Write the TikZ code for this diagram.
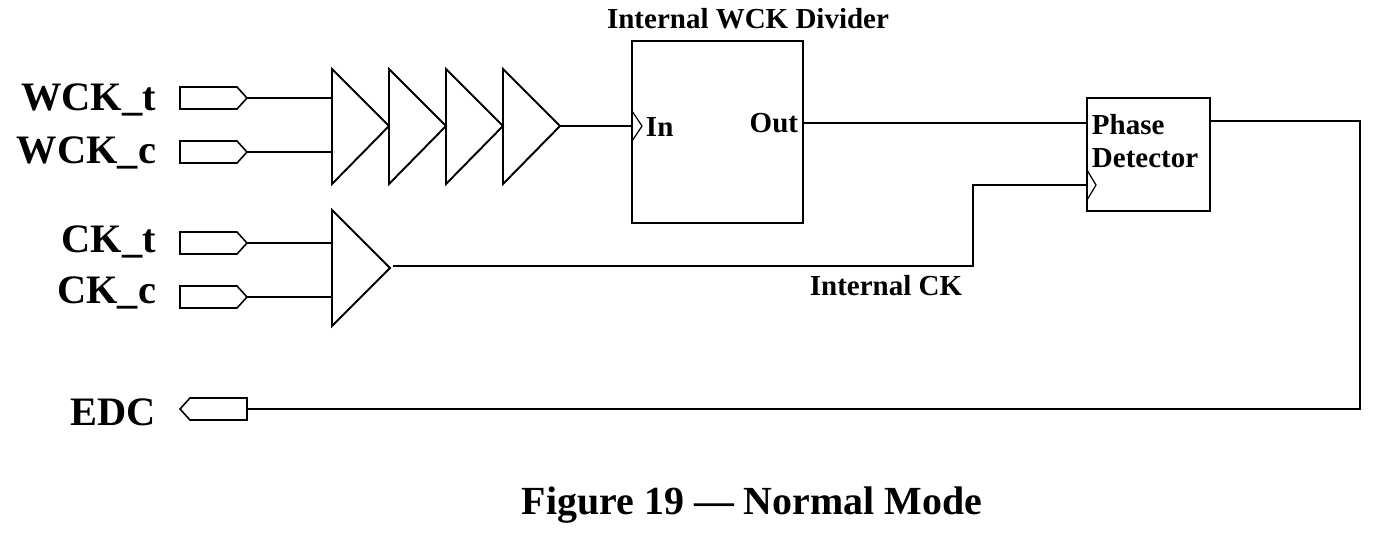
\documentclass[tikz,border=0pt]{standalone}
\usepackage{fontspec}
\setmainfont{Liberation Serif}
\begin{document}
\begin{tikzpicture}[x=0.02cm,y=-0.02cm,line width=1.1pt,
  big/.style={font=\bfseries\fontsize{23}{26}\selectfont,inner sep=0pt},
  small/.style={font=\bfseries\fontsize{16.5}{18}\selectfont},
  pin/.style={line width=0.9pt}]
\useasboundingbox (0,0) rectangle (1385,538);
% input pins
\foreach \n/\y in {wt/98,wc/152,ct/243,cc/297}{
  \draw[pin] (180,\y-11) -- (237,\y-11) -- (247,\y) -- (237,\y+11) -- (180,\y+11) -- cycle;
  \coordinate (\n) at (247,\y);
}
\draw[pin] (180,409) -- (190,398) -- (247,398) -- (247,420) -- (190,420) -- cycle;
\coordinate (edc) at (247,409);
\node[big,anchor=east] at (157,100) {WCK\_t};
\node[big,anchor=east] at (157,153) {WCK\_c};
\node[big,anchor=east] at (157,242) {CK\_t};
\node[big,anchor=east] at (157,293) {CK\_c};
\node[big,anchor=east] at (157,412) {EDC};
% buffer chain
\foreach \x in {332,389,446,503}{
  \draw (\x,69) -- (\x+57,126) -- (\x,184) -- cycle;
}
\coordinate (w1) at (332,98); \coordinate (w2) at (332,152);
\draw (wt) -- (w1); \draw (wc) -- (w2);
\draw (332,210) -- (390,268) -- (332,326) -- cycle;
\coordinate (c1) at (332,243); \coordinate (c2) at (332,297);
\draw (ct) -- (c1); \draw (cc) -- (c2);
% divider
\draw (632,41) rectangle (803,223);
\draw[line width=0.7pt] (632,111) -- (642,126) -- (632,141);
\node[small] at (748,19) {Internal WCK Divider};
\node[small,anchor=west,inner sep=0pt] at (645,127) {In};
\node[small,anchor=east,inner sep=0pt] at (799,123) {Out};
\coordinate (bo) at (560,126); \coordinate (di) at (632,126);
\draw (bo) -- (di);
% phase detector
\draw (1087,98) rectangle (1210,211);
\draw[line width=0.7pt] (1087,170) -- (1096,185) -- (1087,200);
\node[small,anchor=north west,align=left,inner sep=0pt] at (1091,113) {Phase\\[1pt]Detector};
\coordinate (pdin) at (1087,123); \coordinate (dout) at (803,123);
\draw (dout) -- (pdin);
\coordinate (ck) at (393,266); \coordinate (pdck) at (1087,185);
\draw (ck) -- (973,266) -- (973,185) -- (pdck);
\node[small] at (886,286) {Internal CK};
\coordinate (pdo) at (1210,121);
\draw (pdo) -- (1360,121) -- (1360,409) -- (edc);
% caption
\node[font=\bfseries\fontsize{22.7}{24}\selectfont] at (752,505) {Figure 19 — Normal Mode};
\end{tikzpicture}
\end{document}
